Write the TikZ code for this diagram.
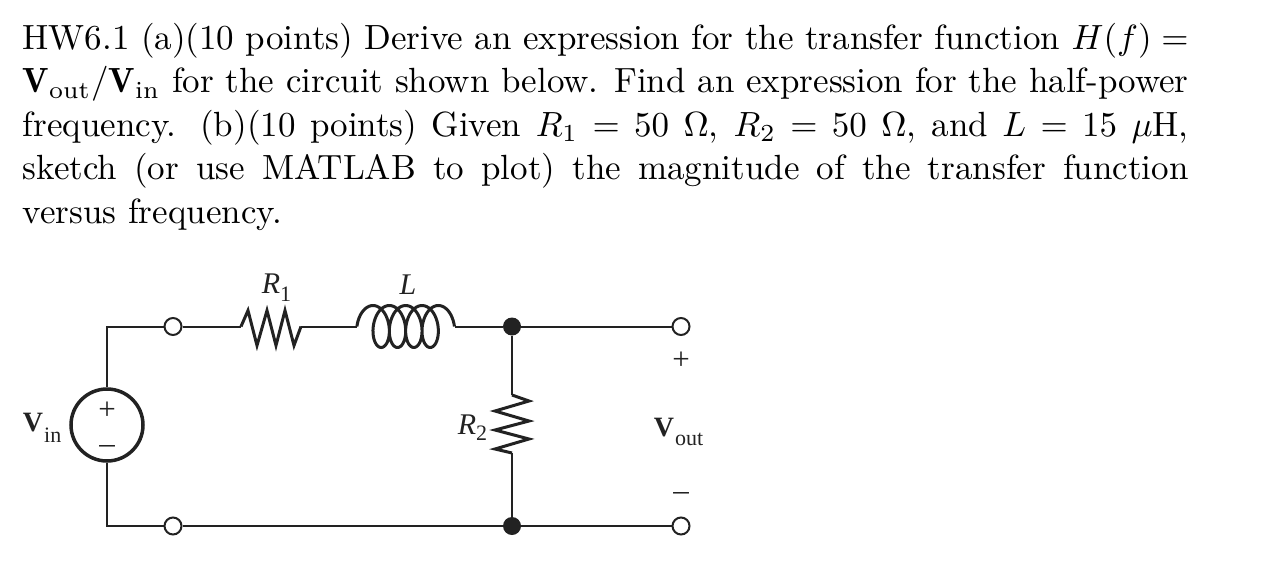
\documentclass[tikz,border=0pt]{standalone}
\usepackage{fontspec}
\newfontfamily\figfont{Liberation Serif}
\usepackage{amsmath}
\definecolor{inkcol}{HTML}{222222}
\tikzset{wire/.style={line width=2pt,draw=inkcol},
         comp/.style={line width=3pt,draw=inkcol,line join=miter},
         terminal/.style={circle,draw=inkcol,line width=2pt,fill=white,inner sep=0pt,minimum size=17pt},
         junction/.style={circle,fill=inkcol,inner sep=0pt,minimum size=18pt},
         lab/.style={inner sep=0pt,text=inkcol,font=\figfont\fontsize{31}{33}\selectfont},
         boldlab/.style={lab,font=\figfont\bfseries\fontsize{28}{30}\selectfont},
         namelab/.style={lab,font=\figfont\itshape\fontsize{30}{32}\selectfont},
         sublab/.style={inner sep=0pt,text=inkcol,anchor=west,font=\figfont\fontsize{22}{24}\selectfont}}
\begin{document}
\begin{tikzpicture}[x=1pt,y=-1pt]
\useasboundingbox (0,0) rectangle (1268,562);
% the problem text
\node[anchor=north west,inner sep=0pt,scale=3.5,text width=333.14pt,align=justify,text=black,
      font=\fontsize{10}{12.43}\selectfont] (problem) at (22,22.5) {%
HW6.1 (a)(10 points) Derive an expression for the transfer function $H(f)=$\linebreak
$\mathbf{V}_{\mathrm{out}}/\mathbf{V}_{\mathrm{in}}$ for the circuit shown below. Find an expression for the half-power\linebreak
frequency. (b)(10 points) Given $R_1=50\ \Omega$, $R_2=50\ \Omega$, and $L=15\ \mu$H,\linebreak
sketch (or use MATLAB to plot) the magnitude of the transfer function\linebreak
versus frequency.};
% the circuit
\node[circle,draw=inkcol,line width=3.5pt,inner sep=0pt,minimum size=72pt] (vsrc) at (107,425) {};
\node[terminal] (tin) at (173,326.5) {};
\node[terminal] (tgnd) at (173,526) {};
\node[terminal] (tout) at (681,326.5) {};
\node[terminal] (tret) at (681,526) {};
\node[junction] (jtop) at (512,326.5) {};
\node[junction] (jbot) at (512,526) {};
\coordinate (ra) at (241,326.5);
\coordinate (rb) at (301,326.5);
\coordinate (la) at (357,326.5);
\coordinate (lb) at (454.5,326.5);
\coordinate (sa) at (512,395);
\coordinate (sb) at (512,453);
\draw[wire] (vsrc) |- (tin);
\draw[wire] (vsrc) |- (tgnd);
\draw[wire] (tin) -- (ra);
\draw[wire] (rb) -- (la);
\draw[wire] (lb) -- (jtop);
\draw[wire] (jtop) -- (tout);
\draw[wire] (jtop) -- (sa);
\draw[wire] (sb) -- (jbot);
\draw[wire] (tgnd) -- (jbot);
\draw[wire] (jbot) -- (tret);
% R1, L, R2
\draw[comp] (ra) -- ++(7,-16) -- ++(9,35) -- ++(10,-35) -- ++(9,35) -- ++(9,-35) -- ++(9,35) -- (rb);
\draw[comp,smooth] plot[domain=-90:1530,samples=200] ({373+2.6*\x*pi/180+12*sin(\x)},{326.5-21*cos(\x)});
\draw[comp] (sa) -- ++(17,6) -- ++(-34,10) -- ++(34,10) -- ++(-34,9) -- ++(34,9) -- ++(-34,10) -- (sb);
% labels
\node[lab] (vsp) at (107,411) {+};
\node[lab] (vsm) at (107,449) {–};
\node[lab] (otp) at (681,361) {+};
\node[lab] (otm) at (681,496) {–};
\node[boldlab] (vi) at (33,423) {V};
\node[sublab] (vis) at (44,435) {in};
\node[boldlab] (vo) at (664,428) {V};
\node[sublab] (vos) at (675,439) {out};
\node[namelab] (rone) at (271,284) {R};
\node[sublab] (rones) at (280,294.5) {1};
\node[namelab] (lname) at (408,284.5) {L};
\node[namelab] (rtwo) at (467,424.5) {R};
\node[sublab] (rtwos) at (476,433) {2};
\end{tikzpicture}
\end{document}
